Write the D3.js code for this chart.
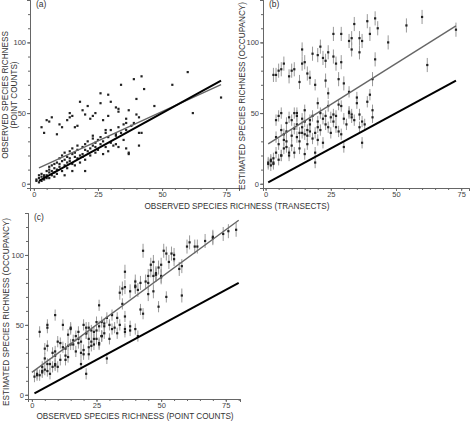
<!DOCTYPE html>
<html>
<head>
<meta charset="utf-8">
<script src="https://cdn.jsdelivr.net/npm/d3@7"></script>
<style>
  body { margin: 0; background: #fff; }
  text { font-family: "Liberation Sans", Arial, sans-serif; fill: #333; }
</style>
</head>
<body>
<svg id="chart" width="474" height="423"></svg>
<script>
// each site: observed richness on transects, on point counts, occupancy estimate, +/- error
var transects = [3,4,5,6,7,9,10,11,13,14,14,15,16,17,18,19,20,21,22,23,24,26,26,27,28,29,29,32,33,33,34,36,36,37,39,40,41,42,42,43,47,54,60,62,73,
  1,1,2,2,3,3,3,4,4,4,5,5,5,6,6,6,7,7,7,8,8,8,9,9,9,10,10,10,11,11,11,12,12,12,13,13,13,14,14,14,15,15,15,16,16,16,17,17,17,18,18,19,19,19,20,20,20,21,21,22,22,23,23,24,24,24,25,25,26,26,27,27,28,28,29,29,30,30,31,32,32,33,33,34,35,35,36,36,37,37,38,39,40,41,41,30,32,20,8,12,15,2,23,6];
var pointCounts = [40,36,45,44,47,35,42,40,45,47,50,48,40,41,58,52,49,55,46,48,50,64,57,45,38,63,48,54,53,51,70,46,43,52,74,60,47,76,36,67,55,70,79,50,61,
  3,2,4,1,5,7,2,6,5,3,6,9,4,8,10,12,9,6,13,11,14,8,10,15,7,12,18,14,16,9,20,13,17,22,15,19,11,18,23,16,14,21,25,19,22,13,24,18,27,20,15,26,21,19,28,24,17,23,30,25,20,27,32,29,22,26,31,24,28,33,30,21,36,26,33,23,38,29,27,34,28,40,26,36,42,31,25,38,22,21,41,43,49,36,27,58,35,9,5,6,9,6,34,4];
var occupancy = [77,77,80,81,85,76,80,81,72,95,85,86,78,75,92,70,91,97,89,87,93,106,90,85,74,106,86,101,95,103,113,93,103,101,115,106,74,117,88,110,100,112,118,84,109,
  14,15,16,13,18,15,14,22,33,45,48,28,17,20,38,50,31,35,25,37,43,30,20,47,22,34,45,27,39,22,50,33,42,48,36,30,25,40,46,36,35,44,52,38,34,28,45,37,42,32,48,36,15,22,44,40,31,38,50,46,29,42,48,55,40,64,47,36,49,44,40,48,56,37,55,35,46,26,42,50,51,47,49,45,61,57,40,49,29,44,42,58,63,47,52,71,65,57,26,50,21,17,73,20];
var occErr = occupancy.map(function(o) { return o > 70 ? 5 : 4; });

var xTicks = [0, 25, 50, 75];
var yTicks = [0, 50, 100];
// fitted lines: [intercept, slope, xStart, xEnd]
var fitA = [9.5, 0.83, 2, 73];
var fitB = [27, 1.16, 1, 73];
var fitC = [16, 1.36, 0, 80];
var oneToOneA = [0, 1, 2, 73];
var oneToOneB = [0, 1, 1, 73];
var oneToOneC = [0, 1, 1, 80];

var svg = d3.select("#chart");

function panel(opt) {
    var x = d3.scaleLinear().domain(opt.xd).range(opt.xr);
    var y = d3.scaleLinear().domain([-3, 130]).range(opt.yr);
    var g = svg.append("g");

    // axes
    var xa = g.append("g").attr("transform", "translate(0," + opt.yr[0] + ")")
        .call(d3.axisBottom(x).tickValues(xTicks).tickSize(3).tickPadding(1));
    xa.append("g").call(d3.axisBottom(x).tickValues(d3.range(0, opt.xd[1], 5)).tickSize(2).tickFormat(""));
    var ya = g.append("g").attr("transform", "translate(" + opt.xr[0] + ",0)")
        .call(d3.axisLeft(y).tickValues(yTicks).tickSize(3).tickPadding(1));
    ya.append("g").call(d3.axisLeft(y).tickValues(d3.range(0, 130, 10)).tickSize(2).tickFormat(""));
    g.selectAll(".domain").attr("stroke", "#666");
    g.selectAll(".tick line").attr("stroke", "#666");
    g.selectAll(".tick text").attr("font-size", 7.5).style("fill", "#444")
        .style("font-family", "Liberation Sans, Arial, sans-serif");

    // error bars
    if (opt.err) {
        g.selectAll(".eb").data(opt.xs).enter().append("line")
            .attr("x1", function(d, i) { return x(d); })
            .attr("x2", function(d, i) { return x(d); })
            .attr("y1", function(d, i) { return y(opt.ys[i] - occErr[i]); })
            .attr("y2", function(d, i) { return y(opt.ys[i] + occErr[i]); })
            .attr("stroke", "#999").attr("stroke-width", 1);
    }
    g.selectAll(".pt").data(opt.xs).enter().append("rect")
        .attr("x", function(d) { return x(d) - 1.1; })
        .attr("y", function(d, i) { return y(opt.ys[i]) - 1.1; })
        .attr("width", 2.2).attr("height", 2.2).attr("fill", "#222");

    function drawLine(f, col, w) {
        g.append("line")
            .attr("x1", x(f[2])).attr("y1", y(f[0] + f[1] * f[2]))
            .attr("x2", x(f[3])).attr("y2", y(f[0] + f[1] * f[3]))
            .attr("stroke", col).attr("stroke-width", w);
    }
    drawLine(opt.fit, "#666", 1.4);
    drawLine(opt.one, "#000", 2);

    g.append("text").attr("x", opt.xr[0] + 6).attr("y", y(125)).attr("font-size", 8.5).text(opt.tag);
    return g;
}

panel({xd: [-1.5, 80], xr: [30, 239], yr: [188, 0], xs: transects, ys: pointCounts,
       err: false, fit: fitA, one: oneToOneA, tag: "(a)"});
panel({xd: [-1, 78], xr: [263, 469], yr: [188, 0], xs: transects, ys: occupancy,
       err: true, fit: fitB, one: oneToOneB, tag: "(b)"});
panel({xd: [-1.5, 80.5], xr: [28, 240], yr: [399, 213], xs: pointCounts, ys: occupancy,
       err: true, fit: fitC, one: oneToOneC, tag: "(c)"});

// axis titles
var fs = 8.2;
svg.append("text").attr("x", 237).attr("y", 209).attr("text-anchor", "middle").attr("font-size", fs)
    .text("OBSERVED SPECIES RICHNESS (TRANSECTS)");
svg.append("text").attr("x", 135).attr("y", 419).attr("text-anchor", "middle").attr("font-size", fs)
    .text("OBSERVED SPECIES RICHNESS (POINT COUNTS)");
svg.append("text").attr("transform", "translate(8,95) rotate(-90)").attr("text-anchor", "middle").attr("font-size", fs)
    .text("OBSERVED SPECIES RICHNESS");
svg.append("text").attr("transform", "translate(17,95) rotate(-90)").attr("text-anchor", "middle").attr("font-size", fs)
    .text("(POINT COUNTS)");
svg.append("text").attr("transform", "translate(245,96) rotate(-90)").attr("text-anchor", "middle").attr("font-size", fs)
    .text("ESTIMATED SPECIES RICHNESS (OCCUPANCY)");
svg.append("text").attr("transform", "translate(9,312) rotate(-90)").attr("text-anchor", "middle").attr("font-size", fs)
    .text("ESTIMATED SPECIES RICHNESS (OCCUPANCY)");
</script>
</body>
</html>
